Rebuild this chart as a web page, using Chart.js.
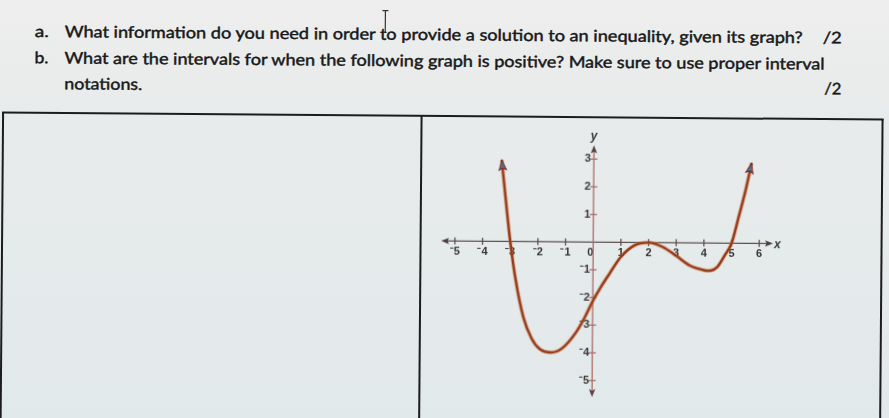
<!DOCTYPE html>
<html><head><meta charset="utf-8">
<script src="https://cdn.jsdelivr.net/npm/chart.js@4.4.1/dist/chart.umd.min.js"></script>
<style>
html,body{margin:0;padding:0;width:889px;height:418px;overflow:hidden;}
body{background:linear-gradient(180deg,#edeeed 0%,#e8ebeb 30%,#e2e9eb 100%);}
#page{position:absolute;left:0;top:0;width:900px;height:440px;transform-origin:0 0;transform:rotate(0.46deg);}
#page svg{position:absolute;left:0;top:0;}
#wrap{position:absolute;left:424px;top:114px;width:458px;height:304px;}
</style></head><body>
<div id="page">
<svg width="900" height="440" xmlns="http://www.w3.org/2000/svg">
 <g font-family="Lato, 'Open Sans', sans-serif" font-size="16" fill="#181818" stroke="#181818" stroke-width="0.45">
  <text x="35" y="36.7" textLength="14" lengthAdjust="spacingAndGlyphs">a.</text>
  <text x="65" y="36.7" textLength="738" lengthAdjust="spacingAndGlyphs">What information do you need in order to provide a solution to an inequality, given its graph?</text>
  <text x="823" y="36.7" textLength="19" lengthAdjust="spacingAndGlyphs">/2</text>
  <text x="35" y="63" textLength="14" lengthAdjust="spacingAndGlyphs">b.</text>
  <text x="65" y="63" textLength="760" lengthAdjust="spacingAndGlyphs">What are the intervals for when the following graph is positive? Make sure to use proper interval</text>
  <text x="65" y="88.8" textLength="78" lengthAdjust="spacingAndGlyphs">notations.</text>
  <text x="825" y="87.5" textLength="17" lengthAdjust="spacingAndGlyphs">/2</text>
 </g>
 <path d="M382.5 7.5 H388.5 M385.5 7.5 V29" stroke="#333" stroke-width="1.2" fill="none"/>
 <g stroke="#1c1c1c" stroke-width="2" fill="none">
  <line x1="3" y1="112.5" x2="884.5" y2="112.5"/>
  <line x1="4" y1="112" x2="4" y2="440"/>
  <line x1="422.5" y1="112" x2="422.5" y2="440"/>
  <line x1="883.5" y1="112" x2="883.5" y2="440"/>
 </g>
</svg>
<div id="wrap"><canvas id="c"></canvas></div>
</div>
<script>
// Curve
const curveX = [-3.33, -3.15, -3.0, -2.8, -2.5, -2.2, -1.9, -1.5, -1.1, -0.6, -0.3, 0.0, 0.3, 0.6, 1.0, 1.5, 2.0, 2.5, 3.0, 3.5, 4.0, 4.2, 4.5, 4.75, 5.0, 5.25, 5.5, 5.7];
const curveY = [2.94, 1.3, 0.0, -1.35, -2.75, -3.5, -3.88, -4.0, -3.85, -3.27, -2.75, -2.13, -1.6, -1.13, -0.53, -0.1, 0.0, -0.15, -0.47, -0.82, -0.98, -1.0, -0.85, -0.45, 0.0, 0.95, 1.95, 2.9];
const xTickValues = [-5, -4, -3, -2, -1, 0, 1, 2, 3, 4, 5, 6];
const yTickValues = [-5, -4, -3, -2, -1, 1, 2, 3];
const xRange = [-5.5, 6.5];
const yRange = [-5.6, 3.5];

const points = curveX.map((x, i) => ({x: x, y: curveY[i]}));

function tri(ctx, tx, ty, ang, len, half, fill, stroke) {
  ctx.save();
  ctx.translate(tx, ty);
  ctx.rotate(ang);
  ctx.beginPath();
  ctx.moveTo(0, 0);
  ctx.lineTo(-len, -half);
  ctx.lineTo(-len * 0.8, 0);
  ctx.lineTo(-len, half);
  ctx.closePath();
  ctx.fillStyle = fill;
  ctx.fill();
  if (stroke) { ctx.strokeStyle = stroke; ctx.lineWidth = 1; ctx.stroke(); }
  ctx.restore();
}

const axesPlugin = {
  id: 'axesArrows',
  beforeDatasetsDraw(chart) {
    const {ctx, chartArea: a, scales: {x, y}} = chart;
    const y0 = y.getPixelForValue(0), x0 = x.getPixelForValue(0);
    ctx.save();
    // x axis
    ctx.strokeStyle = '#5d5050'; ctx.lineWidth = 1.3;
    ctx.beginPath(); ctx.moveTo(a.left + 3, y0); ctx.lineTo(a.right - 3, y0); ctx.stroke();
    xTickValues.forEach(v => {
      if (v === 0) return;
      const px = x.getPixelForValue(v);
      ctx.beginPath(); ctx.moveTo(px, y0 - 3.5); ctx.lineTo(px, y0 + 3.5); ctx.stroke();
    });
    tri(ctx, a.left, y0, Math.PI, 8, 3.2, '#4a3c3c');
    tri(ctx, a.right, y0, 0, 8, 3.2, '#4a3c3c');
    // y axis
    ctx.strokeStyle = '#ad6c68'; ctx.lineWidth = 1.3;
    ctx.beginPath(); ctx.moveTo(x0, a.top + 3); ctx.lineTo(x0, a.bottom - 3); ctx.stroke();
    yTickValues.forEach(v => {
      const py = y.getPixelForValue(v);
      ctx.beginPath(); ctx.moveTo(x0 - 3.5, py); ctx.lineTo(x0 + 3.5, py); ctx.stroke();
    });
    tri(ctx, x0, a.top, -Math.PI / 2, 8, 3.2, '#5a4040');
    tri(ctx, x0, a.bottom, Math.PI / 2, 8, 3.2, '#5a4040');
    // axis names
    ctx.fillStyle = '#3a3a3a';
    ctx.font = 'italic bold 12px "Liberation Sans", Arial, sans-serif';
    ctx.textAlign = 'left'; ctx.textBaseline = 'middle';
    ctx.fillText('x', a.right + 1, y0 + 1);
    ctx.textAlign = 'center'; ctx.textBaseline = 'alphabetic';
    ctx.fillText('y', x0, a.top - 6);
    ctx.restore();
  },
  afterDatasetsDraw(chart) {
    const {ctx} = chart;
    const pts = chart.getDatasetMeta(1).data;
    const n = pts.length;
    const drawEnd = (p, q) => {
      const ang = Math.atan2(p.y - q.y, p.x - q.x);
      tri(ctx, p.x, p.y, ang, 10, 3.6, '#4d7590', '#7a2a18');
    };
    drawEnd(pts[0], pts[1]);
    drawEnd(pts[n - 1], pts[n - 2]);
  }
};

const tickFont = {family: '"Liberation Sans", Arial, sans-serif', size: 11, weight: 'bold'};

new Chart(document.getElementById('c'), {
  type: 'scatter',
  data: {
    datasets: [
      {data: points, showLine: true, borderColor: 'rgba(218,112,55,0.38)', borderWidth: 4.2, pointRadius: 0, cubicInterpolationMode: 'monotone'},
      {data: points, showLine: true, borderColor: '#6a1c0c', borderWidth: 2.4, pointRadius: 0, cubicInterpolationMode: 'monotone'}
    ]
  },
  options: {
    responsive: true,
    maintainAspectRatio: false,
    animation: false,
    events: [],
    layout: {padding: {left: 19, right: 107, top: 26.5, bottom: 25.7}},
    plugins: {legend: {display: false}, tooltip: {enabled: false}},
    scales: {
      x: {
        type: 'linear', min: xRange[0], max: xRange[1], position: {y: 0},
        afterBuildTicks: s => { s.ticks = xTickValues.map(v => ({value: v})); },
        grid: {display: false, drawTicks: false}, border: {display: false},
        ticks: {
          padding: 4.5, maxRotation: 0, autoSkip: false, color: '#363636', font: tickFont,
          callback: v => v < 0 ? '\u207B' + Math.abs(v) : (v === 0 ? '0\u2002' : String(v))
        }
      },
      y: {
        type: 'linear', min: yRange[0], max: yRange[1], position: {x: 0},
        afterBuildTicks: s => { s.ticks = yTickValues.map(v => ({value: v})); },
        grid: {display: false, drawTicks: false}, border: {display: false},
        ticks: {
          padding: 4, autoSkip: false, color: '#363636', font: tickFont,
          callback: v => (v < 0 ? '\u207B' + Math.abs(v) : String(v)) + ' '
        }
      }
    }
  },
  plugins: [axesPlugin]
});
</script>
</body></html>
